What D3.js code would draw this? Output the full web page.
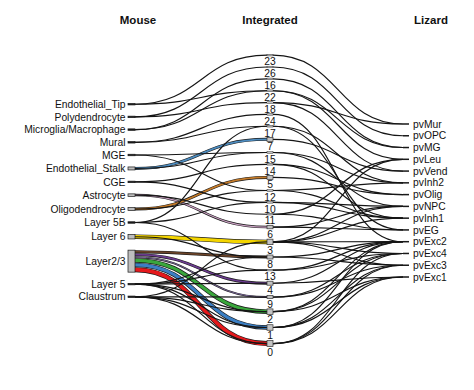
<!DOCTYPE html>
<html><head><meta charset="utf-8">
<script src="https://cdn.jsdelivr.net/npm/d3@7"></script>
<style>body{margin:0;background:#fff}svg{display:block}text{font-family:"Liberation Sans",Arial,Helvetica,sans-serif;fill:#111}</style>
</head><body><svg id="c" width="474" height="390"></svg>
<script>
// ---------- data ----------
const mouseNodes = ["Endothelial_Tip","Polydendrocyte","Microglia/Macrophage","Mural","MGE","Endothelial_Stalk","CGE","Astrocyte","Oligodendrocyte","Layer 5B","Layer 6","Layer2/3","Layer 5","Claustrum"];
const clusterNodes = ["23","26","16","22","18","24","17","7","15","14","5","12","10","11","6","3","8","13","4","9","2","1","0"];
const lizardNodes = ["pvMur","pvOPC","pvMG","pvLeu","pvVend","pvInh2","pvOlig","pvNPC","pvInh1","pvEG","pvExc2","pvExc4","pvExc3","pvExc1"];
const columnTitles = ["Mouse","Integrated","Lizard"];

// mouse cell type -> integrated cluster : [source, target, weight]
const mouseLinks = [
  ["Endothelial_Tip","23",1],["Endothelial_Tip","22",1],
  ["Polydendrocyte","26",1],["Polydendrocyte","18",1],
  ["Microglia/Macrophage","16",1],["Microglia/Macrophage","22",1],
  ["Mural","24",1],["Mural","17",1],
  ["MGE","15",1],["MGE","12",1],
  ["Endothelial_Stalk","7",3],["Endothelial_Stalk","15",1],
  ["CGE","14",1],["CGE","10",1],
  ["Astrocyte","6",2.5],["Astrocyte","11",1],
  ["Oligodendrocyte","5",3],["Oligodendrocyte","12",1],
  ["Layer 5B","17",1],["Layer 5B","10",1],["Layer 5B","13",1],
  ["Layer 6","3",4.5],["Layer 6","8",1],
  ["Layer2/3","8",3],["Layer2/3","4",3],["Layer2/3","9",2],["Layer2/3","2",4.5],["Layer2/3","1",4.5],["Layer2/3","0",5],
  ["Layer 5","8",1],["Layer 5","13",1],["Layer 5","4",1],["Layer 5","2",1],["Layer 5","1",1],["Layer 5","0",1],
  ["Claustrum","3",1],["Claustrum","9",1],["Claustrum","2",1],["Claustrum","1",1],["Claustrum","0",1]
];
// integrated cluster -> lizard cell type : [source, target, weight]
const lizardLinks = [
  ["23","pvMur",1],["26","pvOPC",1],["16","pvMG",1],["22","pvLeu",1],["22","pvMG",1],
  ["18","pvMur",1],["18","pvVend",1],["24","pvExc2",1],["17","pvEG",1],["17","pvInh2",1],
  ["7","pvVend",1],["15","pvInh2",1],["15","pvNPC",1],["14","pvOlig",1],["14","pvInh1",1],
  ["5","pvOlig",1],["12","pvInh1",1],["12","pvInh2",1],["10","pvInh1",1],["10","pvNPC",1],
  ["11","pvEG",1],["11","pvLeu",1],["6","pvEG",1],["6","pvNPC",1],
  ["3","pvLeu",1],["3","pvNPC",1],["3","pvInh1",1],["3","pvExc2",1],["3","pvExc4",1],["3","pvExc3",1],
  ["8","pvExc2",1],["8","pvExc3",1],["13","pvExc2",1],["13","pvExc4",1],
  ["4","pvExc2",1],["4","pvExc1",1],["9","pvExc4",1],["9","pvExc3",1],
  ["2","pvExc2",1],["2","pvExc4",1],["2","pvExc1",1],
  ["1","pvExc1",1],["1","pvExc3",1],["1","pvExc2",1],
  ["0","pvExc1",1],["0","pvExc3",1],["0","pvExc4",1]
];

// ---------- styles ----------
const bandColor = {
  "Endothelial_Stalk|7":"#4d8cbf","Astrocyte|6":"#c9a0c2","Oligodendrocyte|5":"#c47b2a",
  "Layer 6|3":"#f4d500","Layer2/3|8":"#6a4328","Layer2/3|4":"#6b3c8f","Layer2/3|9":"#8e78b2",
  "Layer2/3|2":"#3aa73c","Layer2/3|1":"#3b7fc4","Layer2/3|0":"#e5191c"
};
const isBand = l => bandColor[l[0]+"|"+l[1]] !== undefined;

const svg = d3.select("#c");
const CY = 200.5;
const X = {l0:128,l1:135,m0:267,m1:273,r0:403,r1:409};
const wpx = d3.scaleLinear().domain([0,10]).range([0,10]);
const FS = "10.3px";

function layout(names, hOf, pad){
  const hs = names.map(hOf);
  const total = d3.sum(hs) + pad*(names.length-1);
  let y = CY - total/2;
  const m = {};
  names.forEach((n,i)=>{ m[n] = {y0:y, y1:y+hs[i], yc:y+hs[i]/2, h:hs[i]}; y += hs[i]+pad; });
  return m;
}
const leftBand = n => d3.sum(mouseLinks.filter(l=>l[0]===n && isBand(l)), l=>wpx(l[2]));
const midBand = n => d3.sum(mouseLinks.filter(l=>l[1]===n && isBand(l)), l=>wpx(l[2]));

const L = layout(mouseNodes, n => Math.max(1.5, leftBand(n)), 11.2);
const M = layout(clusterNodes, n => midBand(n) > 0 ? midBand(n)+1 : 1.5, 10.35);
const R = layout(lizardNodes, () => 1.5, 10.27);

const link = d3.linkHorizontal().x(d=>d[0]).y(d=>d[1]);

// band positions at the left nodes (stacked in target order)
const bandStart = {};
mouseNodes.forEach(n=>{
  const bl = mouseLinks.filter(l=>l[0]===n && isBand(l)).sort((a,b)=>M[a[1]].yc - M[b[1]].yc);
  let y = L[n].y0;
  bl.forEach(l=>{ const w=wpx(l[2]); bandStart[l[0]+"|"+l[1]] = y + w/2; y += w; });
});

const gLinks = svg.append("g");
mouseLinks.filter(isBand).forEach(l=>{
  const w = wpx(l[2]);
  const d = link({source:[X.l1, bandStart[l[0]+"|"+l[1]]], target:[X.m0, M[l[1]].yc]});
  gLinks.append("path").attr("d",d).attr("fill","none").attr("stroke","#1a1a1a").attr("stroke-width",w);
  gLinks.append("path").attr("d",d).attr("fill","none").attr("stroke",bandColor[l[0]+"|"+l[1]]).attr("stroke-width",Math.max(0.8,w-1.3));
});
mouseLinks.filter(l=>!isBand(l)).forEach(l=>{
  gLinks.append("path").attr("d",link({source:[X.l1, L[l[0]].yc], target:[X.m0, M[l[1]].yc]}))
    .attr("fill","none").attr("stroke","#151515").attr("stroke-width",wpx(l[2])*1.15);
});
lizardLinks.forEach(l=>{
  gLinks.append("path").attr("d",link({source:[X.m1, M[l[0]].yc], target:[X.r0, R[l[1]].yc]}))
    .attr("fill","none").attr("stroke","#151515").attr("stroke-width",wpx(l[2])*1.15);
});

// nodes
const gN = svg.append("g");
mouseNodes.forEach(n=>{
  const b = leftBand(n) > 0;
  gN.append("rect").attr("x",X.l0).attr("y",L[n].y0).attr("width",X.l1-X.l0).attr("height",L[n].h)
    .attr("fill", b ? "#bdbdbd" : "#1a1a1a").attr("stroke","#1a1a1a").attr("stroke-width",0.7);
  gN.append("text").attr("x",X.l0-2.5).attr("y",L[n].yc).attr("dy","0.35em").attr("text-anchor","end")
    .attr("font-size",FS).text(n);
});
clusterNodes.forEach(n=>{
  const big = M[n].h > 2;
  const hh = big ? M[n].h : 1.6;
  gN.append("rect").attr("x",X.m0).attr("y",M[n].yc-hh/2).attr("width",X.m1-X.m0).attr("height",hh)
    .attr("fill","#c4c4c4").attr("stroke","#333").attr("stroke-width",big?0.7:0.5);
  gN.append("text").attr("x",(X.m0+X.m1)/2).attr("y",M[n].yc+Math.max(hh,2.5)/2+9).attr("text-anchor","middle")
    .attr("font-size",FS).text(n);
});
lizardNodes.forEach(n=>{
  gN.append("rect").attr("x",X.r0).attr("y",R[n].y0).attr("width",X.r1-X.r0).attr("height",R[n].h)
    .attr("fill","#1a1a1a");
  gN.append("text").attr("x",X.r1+4).attr("y",R[n].yc).attr("dy","0.35em").attr("text-anchor","start")
    .attr("font-size",FS).text(n);
});

// column titles
const titleX = [138, 270, 431];
columnTitles.forEach((t,i)=>{
  svg.append("text").attr("x",titleX[i]).attr("y",24).attr("text-anchor","middle")
    .attr("font-size","11.5px").attr("font-weight","bold").text(t);
});
</script></body></html>
